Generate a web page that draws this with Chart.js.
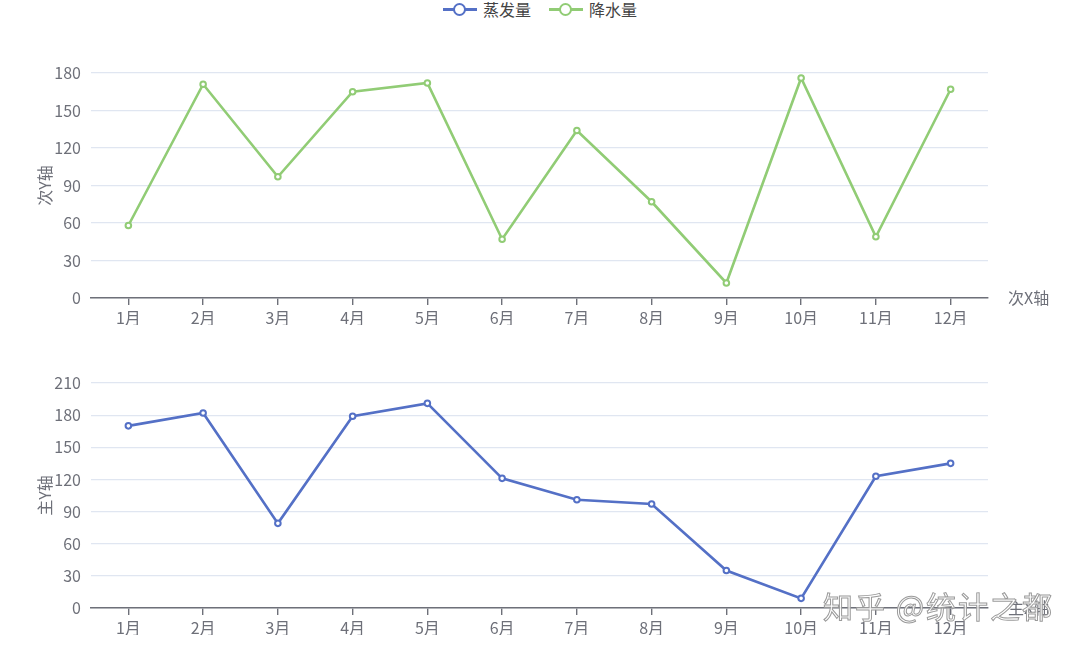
<!DOCTYPE html>
<html>
<head>
<meta charset="utf-8">
<script src="https://cdn.jsdelivr.net/npm/chart.js@4.4.1/dist/chart.umd.min.js"></script>
<style>
body{margin:0;background:#fff;font-family:"Noto Sans CJK SC","Noto Sans",sans-serif;}
#wrap{position:relative;width:1080px;height:650px;overflow:hidden;}
canvas{position:absolute;left:0;}
#legend{position:absolute;top:0;left:0;width:1080px;height:19px;display:flex;justify-content:center;font-size:16px;line-height:19px;color:#444;}
.item{display:flex;align-items:center;margin:0 9px;}
.icon{position:relative;width:34px;height:19px;margin-right:6px;}
.icon:before{content:"";position:absolute;left:0;right:0;top:8px;height:3px;background:var(--c);}
.icon:after{content:"";position:absolute;left:10px;top:3px;width:9px;height:9px;border:2.5px solid var(--c);border-radius:50%;background:#fff;}
#mark{position:absolute;left:823px;top:583px;font-size:30px;color:rgba(255,255,255,0.85);-webkit-text-stroke:1px #9a9a9a;letter-spacing:2px;}
</style>
</head>
<body>
<div id="wrap">
  <div id="legend">
    <div class="item"><span class="icon" style="--c:#5470c6"></span>蒸发量</div>
    <div class="item"><span class="icon" style="--c:#91cc75"></span>降水量</div>
  </div>
  <canvas id="top" width="1080" height="325" style="top:0"></canvas>
  <canvas id="bottom" width="1080" height="325" style="top:325px"></canvas>
  <div id="mark">知乎 @统计之都</div>
</div>
<script>
const months = ["1月","2月","3月","4月","5月","6月","7月","8月","9月","10月","11月","12月"];
const evaporation = [170, 182, 79, 179, 191, 121, 101, 97, 35, 9, 123, 135];
const rainfall = [58, 171, 97, 165, 172, 47, 134, 77, 12, 176, 49, 167];

const axisGrey = "#6E7079";
const font16 = { family: '"Noto Sans CJK SC", sans-serif', size: 16 };

// draws the x axis name to the right of the axis line, like echarts does
const axisName = {
  id: "axisName",
  afterDraw(chart, args, opts) {
    const ctx = chart.ctx;
    const x = chart.scales.x;
    ctx.save();
    ctx.font = '16px "Noto Sans CJK SC", sans-serif';
    ctx.fillStyle = axisGrey;
    ctx.textBaseline = "middle";
    ctx.textAlign = "left";
    ctx.fillText(opts.text, chart.chartArea.right + 20, x.top);
    ctx.restore();
  }
};

function makeChart(id, label, data, color, yMax, yName, xName, padTop, padBottom) {
  return new Chart(document.getElementById(id), {
    type: "line",
    data: {
      labels: months,
      datasets: [{
        label: label,
        data: data,
        borderColor: color,
        borderWidth: 2.6,
        pointRadius: 2.8,
        pointBorderWidth: 2,
        pointBackgroundColor: "#fff",
        pointBorderColor: color,
        tension: 0
      }]
    },
    options: {
      responsive: false,
      animation: false,
      layout: { padding: { top: padTop, bottom: padBottom, left: 0, right: 92 } },
      plugins: {
        legend: { display: false },
        tooltip: { enabled: false },
        axisName: { text: xName }
      },
      scales: {
        x: {
          offset: true,
          afterFit(s) { s.height = 27; },
          border: { display: true, color: axisGrey, width: 1.4 },
          grid: { drawOnChartArea: false, drawTicks: true, tickLength: 7, color: axisGrey, lineWidth: 1.4 },
          ticks: { color: axisGrey, font: font16, padding: 3, maxRotation: 0, autoSkip: false }
        },
        y: {
          min: 0,
          max: yMax,
          afterFit(s) { s.width = 91; },
          border: { display: false },
          grid: { color: "#E0E6F1", lineWidth: 1.2, drawTicks: false },
          ticks: { stepSize: 30, color: axisGrey, font: font16, padding: 10 },
          title: { display: true, text: yName, color: axisGrey, font: font16, padding: { top: 35, bottom: 0 } }
        }
      }
    },
    plugins: [axisName]
  });
}

makeChart("top", "降水量", rainfall, "#91cc75", 180, "次Y轴", "次X轴", 73, 0);
makeChart("bottom", "蒸发量", evaporation, "#5470c6", 210, "主Y轴", "主X轴", 58, 15);
</script>
</body>
</html>
